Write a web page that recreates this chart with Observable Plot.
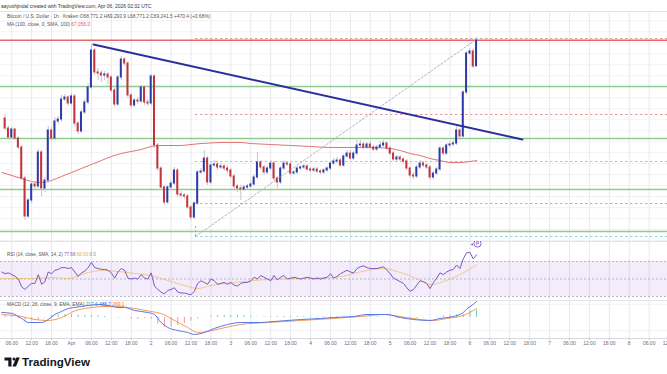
<!DOCTYPE html>
<html><head><meta charset="utf-8">
<script src="https://cdn.jsdelivr.net/npm/d3@7"></script>
<script src="https://cdn.jsdelivr.net/npm/@observablehq/plot@0.6"></script>
<style>
body{margin:0;background:#fff;}
#wrap{position:relative;width:667px;height:374px;overflow:hidden;background:#fff;font-family:"Liberation Sans",Arial,sans-serif;}
</style></head><body><div id="wrap"></div>
<script>
// ---------- DATA ----------
const headerText = "aayushjindal created with TradingView.com, Apr 06, 2026 02:32 UTC";
const symbolText = "Bitcoin / U.S. Dollar · 1h · Kraken";
const ohlcLabels = ["O", "H", "L", "C"];
const ohlcValues = ["68,771.2", "69,293.9", "68,771.2", "69,241.5"];
const changeText = "+470.4 (+0.68%)";
const maLegend = "MA (100, close, 0, SMA, 100)";
const maLegendValue = "67,056.0";
const rsiLegend = "RSI (14, close, SMA, 14, 2)";
const rsiLegendValues = ["77.66", "68.50", "0", "0"];
const macdLegend = "MACD (12, 26, close, 9, EMA, EMA)";
const macdLegendValues = ["217.6", "486.7", "269.1"];
const brandText = "TradingView";
const dayLabels = ["Apr", "2", "3", "4", "5", "6", "7", "8"];
const hourLabels = ["06:00", "12:00", "18:00"];

// hourly candles, first one at Mar 31 04:00 UTC (hour -20 from Apr 1 00:00)
const firstCandleHour = -20;
const opens = [
67822,67640,67477,67622,67458,67295,66730,66039,66330,66621,
66585,67204,66548,66694,67604,67458,67768,67804,68168,68205,
68095,68223,67731,67586,67932,68114,68387,69060,68660,68641,
68605,68623,68569,68332,68077,68569,68896,68823,68241,68059,
68150,68132,68387,68114,68095,68587,67331,66912,66567,66294,
66567,66639,66876,66439,66421,66403,66203,66021,66275,66840,
66858,67094,66658,66967,66985,66931,66949,66912,66876,66767,
66585,66548,66530,66567,66585,66621,66749,67022,66931,66840,
66912,67003,66730,66658,66912,67003,66985,66821,66840,66912,
66931,66949,66894,66876,66894,66858,66840,66876,66912,67003,
67040,67058,66967,67131,67185,67094,67185,67331,67349,67295,
67349,67295,67258,67295,67331,67367,67276,67185,67076,67113,
67076,67040,66912,66785,66767,66931,67003,66967,66931,66749,
66821,66894,67276,67185,67331,67349,67367,67604,67495,68296,
69005,69042,68771.2];
const highs = [
67895,67677,67659,67640,67495,67331,66767,66366,66676,66676,
67258,67240,66749,67677,67659,67841,67859,68241,68259,68241,
68277,68259,67768,67968,68168,68459,69169,69096,68732,68696,
68678,68660,68605,68368,68605,68951,68933,68860,68277,68186,
68205,68423,68423,68168,68623,68623,67367,66949,66603,66603,
66694,66931,66912,66494,66457,66439,66239,66312,66876,66912,
67240,67131,67003,67058,67040,67003,66985,66967,66912,66803,
66621,66603,66603,66621,66676,66803,67204,67058,66967,66949,
67058,67040,66767,66949,67058,67040,67022,66876,66949,66967,
66985,66985,66931,66931,66931,66894,66912,66949,67040,67094,
67113,67094,67167,67240,67240,67222,67422,67422,67386,67386,
67404,67331,67331,67404,67422,67404,67313,67222,67149,67149,
67113,67076,66949,66840,66967,67058,67040,67003,66967,66858,
66931,67313,67313,67367,67404,67422,67677,67640,68332,69042,
69096,69078,69293.9];
const lows = [
67604,67458,67440,67422,67258,66694,65966,66002,66275,66530,
66548,66403,66476,66639,67404,67422,67713,67750,68132,68041,
68059,67677,67531,67549,67895,68077,68350,68605,68514,68478,
68514,68441,68296,68023,68041,68514,68769,68186,68004,68023,
68077,68095,68059,68041,68059,67276,66858,66512,66239,66257,
66512,66603,66385,66366,66348,66166,65966,65984,66239,66803,
66821,66603,66621,66931,66876,66894,66858,66821,66730,66530,
66476,66330,66494,66530,66548,66585,66712,66876,66785,66803,
66876,66676,66548,66621,66876,66949,66785,66785,66803,66876,
66894,66858,66840,66840,66821,66803,66803,66840,66876,66967,
67003,66931,66931,67094,67058,67058,67149,67295,67258,67258,
67258,67222,67222,67258,67295,67240,67149,67040,67040,67040,
67003,66876,66730,66712,66730,66894,66931,66894,66694,66712,
66785,66858,67149,67149,67295,67313,67331,67422,67458,68259,
68969,68732,68771.2];
const closes = [
67640,67477,67622,67458,67295,66730,66039,66330,66621,66585,
67204,66548,66694,67604,67458,67768,67804,68168,68205,68095,
68223,67731,67586,67932,68114,68387,69060,68660,68641,68605,
68623,68569,68332,68077,68569,68896,68823,68241,68059,68150,
68132,68387,68114,68095,68587,67331,66912,66567,66294,66567,
66639,66876,66439,66421,66403,66203,66021,66275,66840,66858,
67094,66658,66967,66985,66931,66949,66912,66876,66767,66585,
66548,66530,66567,66585,66621,66749,67022,66931,66840,66912,
67003,66730,66658,66912,67003,66985,66821,66840,66912,66931,
66949,66894,66876,66894,66858,66840,66876,66912,67003,67040,
67058,66967,67131,67185,67094,67185,67331,67349,67295,67349,
67295,67258,67295,67331,67367,67276,67185,67076,67113,67076,
67040,66912,66785,66767,66931,67003,66967,66931,66749,66821,
66894,67276,67185,67331,67349,67367,67604,67495,68296,69005,
69042,68769,69241.5];

// MA(100) line
const maHours = [-21,-18,-15,-12,-9,-6,-3,0,3,6,9,12,15,18,21,24,27,30,33,36,39,42,45,48,51,54,57,60,66,72,78,84,90,96,99,102,105,108,111,114,117,120,122];
const maValues = [66840,66785,66730,66676,66658,66694,66767,66840,66912,66985,67058,67131,67185,67222,67258,67313,67331,67331,67331,67349,67367,67377,67386,67386,67386,67367,67358,67349,67331,67313,67295,67295,67295,67276,67240,67185,67149,67094,67058,67022,67022,67040,67056];

// drawn levels
const resistanceLevel = [69245];
const supportLevels = [68405, 67458, 66530, 65766];
const fibRedLevels = [69278, 67895, 66275];
const fibBlueLevels = [67040, 65675];
const fibStartHour = 37.35;
const trendHours = [6.63, 135.8];
const trendPrices = [69169, 67440];
const measureHours = [37.35, 122.3];
const measurePrices = [65675, 69278];
const bracketPrices = [65675, 65875];

// RSI hourly from hour -21
const rsiStartHour = -21;
const rsiValues = [
58,56,57,55,53,50,41,38,42,45,
45,55,44,47,58,56,60,61,63,63,
62,63,58,53,57,59,63,69,63,62,
61,61,60,57,51,58,62,60,51,50,
51,50,55,51,50,57,42,38,35,33,
37,38,40,35,34,34,33,32,36,45,
48,46,44,50,48,44,45,46,44,46,
43,42,45,46,46,48,52,50,54,52,
50,48,54,49,52,54,50,51,52,51,
50,51,52,51,50,51,50,51,52,56,
51,53,56,58,60,58,57,62,64,65,
63,62,62,62,63,64,60,56,51,49,
47,45,40,36,38,43,48,47,45,39,
46,51,57,55,58,60,61,66,62,73,
80,80.5,73,77.66];
const rsiMaHours = [-21,-11,-6,-1,5,9,14,19,24,29,34,38,42,49,59,69,79,89,94,99,104,108,112,117,122];
const rsiMaValues = [50.6,50.6,51.7,50.6,57.4,59.7,58.6,56.3,54,48.3,42.6,39.1,42.6,46,49.4,50.6,51.7,59.7,62,57.4,50.6,43.7,47.1,55,66];
const rsiIconHours = [120.7, 122.3];
const rsiIconValues = [89.4, 90.6];

// MACD
const macdHours = [-21,-18,-15,-13,-11,-9,-7,-5,-3,-1,1,5,8,11,14,16,19,23,25,27,29,32,35,37,40,43,47,51,57,61,69,75,79,85,89,95,99,103,108,111,115,118,119,121,122];
const macdValues = [152,125,-30,-152,-152,-152,-61,91,182,274,304,365,395,365,304,304,213,152,91,-152,-304,-395,-456,-517,-456,-334,-213,-152,-152,-122,-61,-30,0,30,91,91,0,-61,-91,-30,30,152,250,400,486.7];
const signalHours = [-21,-15,-11,-7,-3,1,5,9,13,19,24,27,31,35,38,41,45,51,59,69,79,87,94,99,105,109,113,118,122];
const signalValues = [91,30,-61,-91,0,200,290,330,340,274,182,122,-91,-304,-456,-426,-334,-213,-152,-91,-30,30,91,30,-61,-91,-30,61,269.1];
const histStartHour = -20;
const histValues = [
60,65,-35,-120,-107,-77,-10,60,80,90,
85,70,60,55,45,30,5,-21,-10,-55,
-55,-35,-55,-200,-300,-285,-250,-180,-110,-44,
-10,40,50,60,60,65,53,33,13,15,
20,25,30,30,30,30,25,20,25,30,
30,25,18,25,40,36,21,6,-5,-30,
-40,-45,-30,-15,-3,15,45,60,80,90,
210,217.6];

// ---------- SETUP ----------
const H0 = Date.UTC(2026, 3, 1);
const at = h => new Date(H0 + h * 3600e3);
const xDomain = [at(-21.386), at(179.52)];
const W = 667;
const FONT = "Liberation Sans, Arial, sans-serif";
const upColor = "#2b3aa8", downColor = "#c4333a", wickColor = "#c4c4ce";
const vGridColor = "#e8e8ee", hGridColor = "#f2f2f5";

const candles = opens.map((o, i) => ({t: at(firstCandleHour + i), open: o, high: highs[i], low: lows[i], close: closes[i]}));
const maData = maHours.map((h, i) => ({t: at(h), v: maValues[i]}));
const tickHours = d3.range(-18, 181, 6);
const tickTimes = tickHours.map(at);
const tickLabel = d => {
  const h = Math.round((d - H0) / 3600e3);
  const m = ((h % 24) + 24) % 24;
  return m === 0 ? dayLabels[h / 24] : hourLabels[m / 6 - 1];
};
const fibStart = at(fibStartHour);
const trendData = trendHours.map((h, i) => ({t: at(h), v: trendPrices[i]}));
const measureData = measureHours.map((h, i) => ({t: at(h), v: measurePrices[i]}));
const rsiData = rsiValues.map((v, i) => ({t: at(rsiStartHour + i), v}));
const rsiMaData = rsiMaHours.map((h, i) => ({t: at(h), v: rsiMaValues[i]}));
const macdData = macdHours.map((h, i) => ({t: at(h), v: macdValues[i]}));
const signalData = signalHours.map((h, i) => ({t: at(h), v: signalValues[i]}));
const histData = histValues.map((v, i) => ({t: at(histStartHour + 2 * i), v}));
const halfBody = 18 * 60e3;

const wrap = document.getElementById("wrap");
function place(svg, top) {
  svg.style.position = "absolute";
  svg.style.left = "0px";
  svg.style.top = top + "px";
  svg.style.maxWidth = "none";
  wrap.appendChild(svg);
}

// ---------- MAIN PANE ----------
const mainPlot = Plot.plot({
  width: W, height: 230, margin: 0,
  x: {type: "utc", domain: xDomain, axis: null},
  y: {domain: [65583.8, 69769.8], axis: null},
  color: {type: "identity"},
  style: {background: "transparent", fontFamily: FONT},
  marks: [
    Plot.ruleY(d3.range(65600, 69800, 200), {stroke: hGridColor}),
    Plot.ruleX(tickTimes, {stroke: vGridColor}),
    Plot.frame({anchor: "top", stroke: "#e2e2e8"}),
    Plot.ruleY(supportLevels, {stroke: "#8ecb8e", strokeWidth: 1.6}),
    Plot.ruleY(resistanceLevel, {stroke: "#e26a6a", strokeWidth: 1.5}),
    Plot.ruleY(fibRedLevels, {x1: () => fibStart, x2: () => xDomain[1], stroke: "#e79a9a", strokeDasharray: "2.5,2.5"}),
    Plot.ruleY(fibBlueLevels, {x1: () => fibStart, x2: () => xDomain[1], stroke: "#8fcfe6", strokeDasharray: "2.5,2.5"}),
    Plot.ruleX([fibStart], {y1: () => bracketPrices[0], y2: () => bracketPrices[1], stroke: "#aaaaaa", strokeDasharray: "2,2"}),
    Plot.line(maData, {x: "t", y: "v", stroke: "#e27272", strokeWidth: 1, curve: "monotone-x"}),
    Plot.ruleX(candles, {x: "t", y1: "low", y2: "high", stroke: wickColor, strokeWidth: 1}),
    Plot.rect(candles, {
      x1: d => new Date(+d.t - halfBody), x2: d => new Date(+d.t + halfBody),
      y1: "open", y2: "close",
      fill: d => d.close >= d.open ? upColor : downColor,
      insetTop: -0.5, insetBottom: -0.5
    }),
    Plot.line(measureData, {x: "t", y: "v", stroke: "#aaaaaa", strokeDasharray: "2,2", strokeWidth: 0.9}),
    Plot.line(trendData, {x: "t", y: "v", stroke: "#2b2f9e", strokeWidth: 2})
  ]
});
place(mainPlot, 11);

// ---------- RSI PANE ----------
const rsiPlot = Plot.plot({
  width: W, height: 59, margin: 0,
  x: {type: "utc", domain: xDomain, axis: null},
  y: {domain: [25.43, 92.857], axis: null},
  style: {background: "transparent", fontFamily: FONT},
  marks: [
    Plot.ruleX(tickTimes, {stroke: vGridColor}),
    Plot.rect([0], {x1: () => xDomain[0], x2: () => xDomain[1], y1: () => 30, y2: () => 70, fill: "#9b6fe0", fillOpacity: 0.13}),
    Plot.ruleY([30, 50, 70], {stroke: "#a6a6b6", strokeDasharray: "2,2", strokeOpacity: 0.8}),
    Plot.frame({anchor: "top", stroke: "#e2e2e8"}),
    Plot.line(rsiMaData, {x: "t", y: "v", stroke: "#f4b860", strokeOpacity: 0.7, strokeWidth: 1, curve: "monotone-x"}),
    Plot.line(rsiData, {x: "t", y: "v", stroke: "#7e57c2", strokeWidth: 1}),
    Plot.dot([0], {x: () => at(rsiIconHours[0]), y: () => rsiIconValues[0], r: 1, fill: "#7e57c2"}),
    Plot.dot([0], {x: () => at(rsiIconHours[1]), y: () => rsiIconValues[1], r: 3.6, stroke: "#7e57c2", fill: "white", strokeWidth: 0.9}),
    Plot.text(["P"], {x: () => at(rsiIconHours[1]), y: () => rsiIconValues[1], fill: "#7e57c2", fontSize: 4.5, fontWeight: "bold"})
  ]
});
place(rsiPlot, 241);

// ---------- MACD PANE + X AXIS ----------
const macdPlot = Plot.plot({
  width: W, height: 50, marginTop: 0, marginLeft: 0, marginRight: 0, marginBottom: 12,
  x: {type: "utc", domain: xDomain, axis: null},
  y: {domain: [-638.4, 516.8], axis: null},
  color: {type: "identity"},
  style: {background: "transparent", fontFamily: FONT},
  marks: [
    Plot.ruleX(tickTimes, {stroke: vGridColor}),
    Plot.ruleY([400, -400], {stroke: hGridColor}),
    Plot.frame({anchor: "top", stroke: "#e2e2e8"}),
    Plot.ruleX(histData, {x: "t", y1: () => 0, y2: "v", stroke: d => d.v >= 0 ? "#76c6bd" : "#f09a9a", strokeWidth: 1}),
    Plot.line(signalData, {x: "t", y: "v", stroke: "#f59a5a", strokeWidth: 1, curve: "monotone-x"}),
    Plot.line(macdData, {x: "t", y: "v", stroke: "#5a78e6", strokeWidth: 1, curve: "monotone-x"}),
    Plot.frame({anchor: "bottom", stroke: "#d8d8e0"}),
    Plot.axisX(tickTimes, {tickSize: 2, tickPadding: 1.3, fontSize: 5, tickFormat: tickLabel, stroke: "#c8c8d0", fill: "#6a6d78", label: null})
  ]
});
place(macdPlot, 300);

// ---------- TEXT OVERLAY ----------
const over = d3.create("svg").attr("width", W).attr("height", 374)
  .style("position", "absolute").style("left", "0px").style("top", "0px")
  .style("font-family", FONT);

over.append("text").attr("x", 1).attr("y", 8).attr("font-size", 4.95).attr("fill", "#333").text(headerText);

const l1 = over.append("text").attr("x", 7).attr("y", 18).attr("font-size", 4.85).attr("fill", "#555");
l1.append("tspan").text(symbolText + "  ");
ohlcLabels.forEach((lab, i) => {
  l1.append("tspan").text(lab);
  l1.append("tspan").text(ohlcValues[i] + "  ");
});
l1.append("tspan").text(changeText);

const l2 = over.append("text").attr("x", 7).attr("y", 26).attr("font-size", 4.85).attr("fill", "#555");
l2.append("tspan").text(maLegend + "  ");
l2.append("tspan").attr("fill", "#e05a5a").text(maLegendValue);

const rsiColors = ["#7e57c2", "#e8b030", "#888", "#888"];
const l3 = over.append("text").attr("x", 7).attr("y", 256).attr("font-size", 4.6).attr("fill", "#555");
l3.append("tspan").text(rsiLegend + "  ");
rsiLegendValues.forEach((v, i) => l3.append("tspan").attr("fill", rsiColors[i]).text(v + (i < 3 ? "  " : "")));

const macdColors = ["#26a69a", "#2962ff", "#ff6d00"];
const l4 = over.append("text").attr("x", 7).attr("y", 306).attr("font-size", 4.8).attr("fill", "#555");
l4.append("tspan").text(macdLegend + "  ");
macdLegendValues.forEach((v, i) => l4.append("tspan").attr("fill", macdColors[i]).text(v + (i < 2 ? "  " : "")));

// brand logo + name
const logo = over.append("g").attr("fill", "#131722");
logo.append("path").attr("d", "M4.5 357.5 H11.5 V366.5 H8.3 V360.5 H4.5 Z");
logo.append("circle").attr("cx", 14).attr("cy", 359).attr("r", 1.5);
logo.append("path").attr("d", "M16.2 357.5 H19.8 L16 366.5 H12.4 Z");
over.append("text").attr("x", 22).attr("y", 366).attr("font-size", 11.5).attr("font-weight", 600)
  .attr("fill", "#131722").attr("textLength", 68).attr("lengthAdjust", "spacingAndGlyphs").text(brandText);

wrap.appendChild(over.node());
</script></body></html>
